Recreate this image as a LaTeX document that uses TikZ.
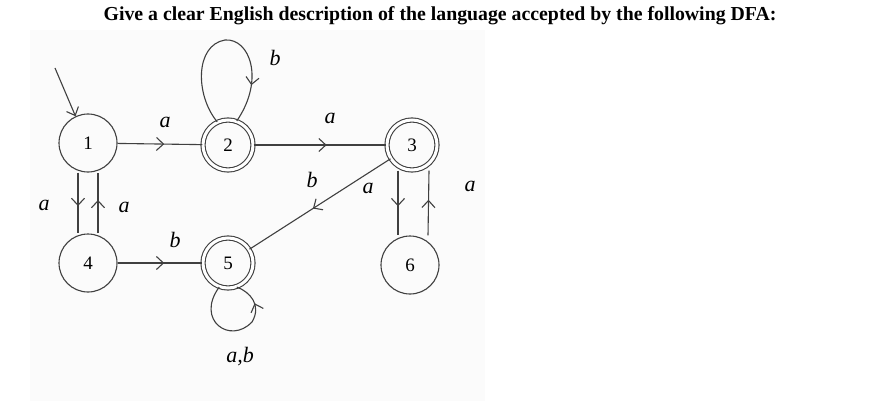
\documentclass[tikz,border=0pt]{standalone}
\usepackage{fontspec}
\setmainfont{Liberation Serif}
\usetikzlibrary{arrows.meta,decorations.markings}
\begin{document}
\begin{tikzpicture}[x=1pt,y=-1pt,
  st/.style={circle,draw=black!75,line width=1.1pt,minimum size=58pt,inner sep=0pt,font=\fontsize{19}{20}\selectfont},
  acc/.style={st,double=white,double distance=3pt,minimum size=50pt},
  tr/.style={draw=black!75,line width=1.1pt,postaction={decorate},decoration={markings,mark=at position #1 with {\arrow{Straight Barb[length=7pt,width=13pt,line width=1.1pt]}}}},
  tr/.default=0.55,
  lab/.style={font=\fontsize{22}{24}\selectfont\itshape}]
\useasboundingbox (0,0) rectangle (886,401);
\fill[black!1.5] (30,30) rectangle (485,401);
\node[font=\bfseries\fontsize{19.8}{22}\selectfont] (title) at (440,16) {Give a clear English description of the language accepted by the following DFA:};
\node[st] (q1) at (88,143) {1};
\node[acc] (q2) at (228,145) {2};
\node[acc] (q3) at (412,145) {3};
\node[st] (q4) at (88,263) {4};
\node[acc] (q5) at (228,263) {5};
\node[st] (q6) at (410,265) {6};
\coordinate (s) at (55,68);
\draw[draw=black!75,line width=1.1pt,-{Straight Barb[length=7pt,width=13pt]}] (s) -- (q1.115);
\path[tr] (q1) -- (q2);
\path[tr] (q2) -- (q3);
\path[tr] (q4) -- (q5);
\path[tr] (q3) -- (q5);
\path[tr] ([xshift=-10pt]q1.south) -- ([xshift=-10pt]q4.north);
\path[tr] ([xshift=10pt]q4.north) -- ([xshift=10pt]q1.south);
\path[tr] ([xshift=-14pt]q3.south) -- ([xshift=-12pt]q6.north);
\path[tr] ([xshift=18pt]q6.north) -- ([xshift=17pt]q3.south);
\path[tr=0.8] (q2.115) .. controls (195,95) and (195,45) .. (225,40) .. controls (250,38) and (265,80) .. (q2.70);
\path[tr=0.8] (q5.250) .. controls (195,320) and (230,345) .. (252,322) .. controls (262,305) and (250,292) .. (q5.290);
\node[lab] (l12) at (165,122) {a};
\node[lab] (l23) at (330,118) {a};
\node[lab] (l35) at (312,180) {b};
\node[lab] (l45) at (175,240) {b};
\node[lab] (l14) at (44,205) {a};
\node[lab] (l41) at (124,207) {a};
\node[lab] (l36) at (368,188) {a};
\node[lab] (l63) at (470,186) {a};
\node[lab] (l22) at (275,58) {b};
\node[lab] (l55) at (240,357) {a,b};
\end{tikzpicture}
\end{document}
